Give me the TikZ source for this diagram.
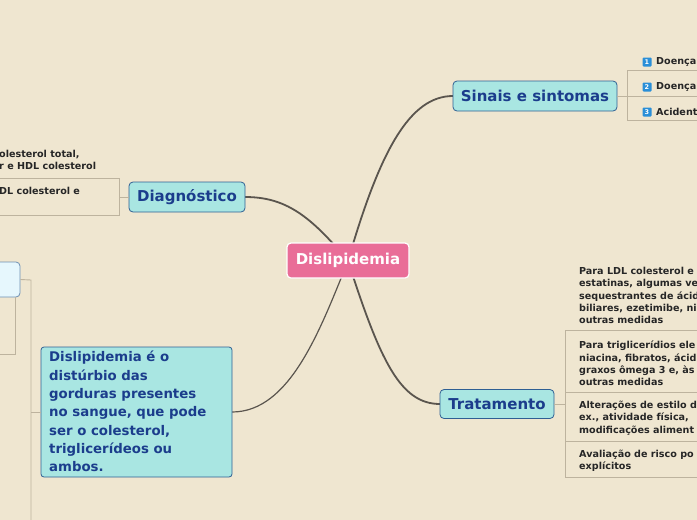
\documentclass[tikz,border=0pt]{standalone}
\usepackage{fontspec}
\setmainfont{DejaVu Sans}
\definecolor{bg}{HTML}{EFE6D0}
\definecolor{topic}{HTML}{A9E6E2}
\definecolor{topicb}{HTML}{2F5F93}
\definecolor{topict}{HTML}{1B3D8C}
\definecolor{pinkc}{HTML}{E96D98}
\definecolor{brk}{HTML}{BDB39E}
\definecolor{curvec}{HTML}{5A554E}
\definecolor{iconb}{HTML}{2A8FD8}
\tikzset{
 topicbox/.style={draw=topicb,fill=topic,rounded corners=4pt,line width=0.8pt,text=topict,font=\bfseries\fontsize{15}{17}\selectfont,inner sep=0pt},
 small/.style={anchor=north west,align=left,font=\bfseries\fontsize{9.6}{12.3}\selectfont,text=black!85,inner sep=0pt},
 brkline/.style={draw=brk,line width=0.9pt},
 curve/.style={draw=curvec,line width=1.8pt},
 numicon/.style={fill=iconb,text=white,minimum size=9pt,inner sep=0pt,font=\bfseries\fontsize{6.5}{7}\selectfont,rounded corners=1pt}
}
\begin{document}
\begin{tikzpicture}[x=1pt,y=-1pt]
\fill[bg] (0,0) rectangle (697,520);
\useasboundingbox (0,0) rectangle (697,520);
\begin{scope}
\clip (0,0) rectangle (697,520);
% curves
\coordinate (c) at (348,261);
\draw[curve] (c) .. controls (380,150) and (410,96) .. (453,96);
\draw[curve] (c) .. controls (310,215) and (285,197) .. (245,197);
\draw[curve] (c) .. controls (380,360) and (400,404) .. (440,404);
\draw[curve,line width=1.2pt] (c) .. controls (320,330) and (290,412) .. (232,412);
% center
\node[draw=white,line width=1.2pt,fill=pinkc,rounded corners=4pt,minimum width=122pt,minimum height=35pt,text=white,font=\bfseries\fontsize{15}{17}\selectfont] (center) at (348,260.5) {Dislipidemia};
% sinais
\node[topicbox,minimum width=164pt,minimum height=30pt] (sin) at (535,96) {Sinais e sintomas};
\draw[brkline] (sin.east) -- (627,96);
\draw[brkline] (697,70) -- (627,70) -- (627,120) -- (697,120);
\draw[brkline] (627,96) -- (697,96);
\node[numicon] (i1) at (647,62) {1};
\node[numicon] (i2) at (647,87) {2};
\node[numicon] (i3) at (647,112) {3};
\node[small,anchor=west] (s1) at (656,62) {Doença};
\node[small,anchor=west] (s2) at (656,87) {Doença};
\node[small,anchor=west] (s3) at (656,112) {Acident};
% diagnostico
\node[topicbox,minimum width=116pt,minimum height=30pt] (diag) at (187,197) {Diagnóstico};
\draw[brkline] (diag.west) -- (119,197);
\draw[brkline] (0,178) -- (119,178) -- (119,215) -- (0,215);
\node[small] (d1) at (-1,150) {olesterol total,\\r e HDL colesterol};
\node[small] (d2) at (-1,187) {DL colesterol e};
% left partial
\node[draw=topicb!70,fill=cyan!10!white,rounded corners=4pt,line width=0.8pt,minimum width=60pt,minimum height=35pt] (lp) at (-10,279.5) {};
\draw[brkline] (lp.east) -- (31,280) -- (31,520);
\draw[brkline] (15,297) -- (15,354) -- (0,354);
% definition
\node[topicbox,minimum width=191pt,minimum height=130pt,rounded corners=3pt] (def) at (136.5,412) {};
\node[anchor=north west,align=left,inner sep=0pt,text=topict,font=\bfseries\fontsize{13.3}{18.3}\selectfont] (deft) at (49,351) {Dislipidemia é o\\distúrbio das\\gorduras presentes\\no sangue, que pode\\ser o colesterol,\\triglicerídeos ou\\ambos.};
\draw[brkline] (31,412) -- (def.west);
% tratamento
\node[topicbox,minimum width=114pt,minimum height=29pt] (trat) at (497,404) {Tratamento};
\draw[brkline] (trat.east) -- (565,404);
\draw[brkline] (697,330) -- (565,330) -- (565,477) -- (697,477);
\draw[brkline] (565,392) -- (697,392);
\draw[brkline] (565,441) -- (697,441);
\node[small] (t1) at (579,267) {Para LDL colesterol e\\estatinas, algumas ve\\sequestrantes de ácid\\biliares, ezetimibe, ni\\outras medidas};
\node[small] (t2) at (579,341) {Para triglicerídios ele\\niacina, fibratos, ácid\\graxos ômega 3 e, às\\outras medidas};
\node[small] (t3) at (579,401) {Alterações de estilo d\\ex., atividade física,\\modificações aliment};
\node[small] (t4) at (579,450) {Avaliação de risco po\\explícitos};
\end{scope}
\end{tikzpicture}
\end{document}
